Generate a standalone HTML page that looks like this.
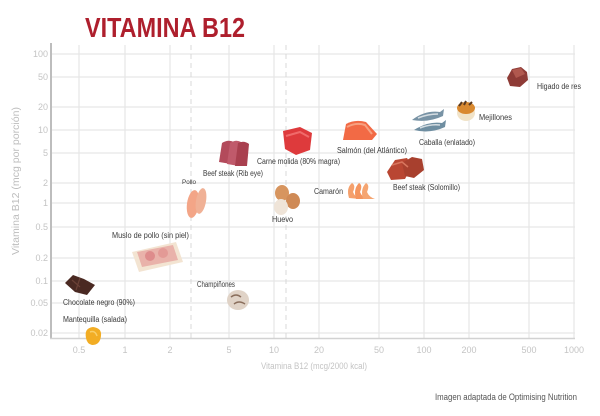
<!DOCTYPE html>
<html><head><meta charset="utf-8"><style>
html,body{margin:0;padding:0;background:#fff;}
svg{display:block;}
text{font-family:"Liberation Sans",sans-serif;}
</style></head><body>
<svg width="600" height="416" viewBox="0 0 600 416" xmlns="http://www.w3.org/2000/svg">
<rect width="600" height="416" fill="#fff"/>
<!-- title -->
<text x="85" y="37" font-size="28" font-weight="bold" fill="#ae1f2d" textLength="160" lengthAdjust="spacingAndGlyphs">VITAMINA B12</text>
<!-- grid -->
<g stroke="#e6e6e6" stroke-width="1.2">
<line x1="79" y1="45" x2="79" y2="338"/>
<line x1="125" y1="45" x2="125" y2="338"/>
<line x1="170" y1="45" x2="170" y2="338"/>
<line x1="229" y1="45" x2="229" y2="338"/>
<line x1="274" y1="45" x2="274" y2="338"/>
<line x1="319" y1="45" x2="319" y2="338"/>
<line x1="379" y1="45" x2="379" y2="338"/>
<line x1="424" y1="45" x2="424" y2="338"/>
<line x1="469" y1="45" x2="469" y2="338"/>
<line x1="529" y1="45" x2="529" y2="338"/>
<line x1="574" y1="45" x2="574" y2="338"/>
<line x1="51" y1="54" x2="575" y2="54"/>
<line x1="51" y1="77" x2="575" y2="77"/>
<line x1="51" y1="107" x2="575" y2="107"/>
<line x1="51" y1="130" x2="575" y2="130"/>
<line x1="51" y1="153" x2="575" y2="153"/>
<line x1="51" y1="183" x2="575" y2="183"/>
<line x1="51" y1="203" x2="575" y2="203"/>
<line x1="51" y1="227" x2="575" y2="227"/>
<line x1="51" y1="258" x2="575" y2="258"/>
<line x1="51" y1="281" x2="575" y2="281"/>
<line x1="51" y1="303" x2="575" y2="303"/>
<line x1="51" y1="333" x2="575" y2="333"/>
</g>
<g stroke="#d8d8d8" stroke-width="1" stroke-dasharray="5,4">
<line x1="191" y1="45" x2="191" y2="338"/>
<line x1="286" y1="45" x2="286" y2="338"/>
</g>
<line x1="51" y1="43" x2="51" y2="339" stroke="#bdbdbd" stroke-width="2"/>
<line x1="50" y1="338.5" x2="575" y2="338.5" stroke="#d2d2d2" stroke-width="1.5"/>
<!-- y tick labels -->
<g font-size="9" fill="#c4c4c4" text-anchor="end">
<text x="48" y="57">100</text>
<text x="48" y="80">50</text>
<text x="48" y="110">20</text>
<text x="48" y="133">10</text>
<text x="48" y="156">5</text>
<text x="48" y="186">2</text>
<text x="48" y="206">1</text>
<text x="48" y="230">0.5</text>
<text x="48" y="261">0.2</text>
<text x="48" y="284">0.1</text>
<text x="48" y="306">0.05</text>
<text x="48" y="336">0.02</text>
</g>
<g font-size="9" fill="#c4c4c4" text-anchor="middle">
<text x="79" y="353">0.5</text>
<text x="125" y="353">1</text>
<text x="170" y="353">2</text>
<text x="229" y="353">5</text>
<text x="274" y="353">10</text>
<text x="319" y="353">20</text>
<text x="379" y="353">50</text>
<text x="424" y="353">100</text>
<text x="469" y="353">200</text>
<text x="529" y="353">500</text>
<text x="574" y="353">1000</text>
</g>
<text x="261" y="369" font-size="9" fill="#c4c4c4" textLength="106" lengthAdjust="spacingAndGlyphs">Vitamina B12 (mcg/2000 kcal)</text>
<text transform="translate(19,255) rotate(-90)" font-size="10" fill="#bdbdbd" textLength="148" lengthAdjust="spacingAndGlyphs">Vitamina B12 (mcg por porción)</text>
<text x="435" y="400" font-size="9" fill="#555" textLength="142" lengthAdjust="spacingAndGlyphs">Imagen adaptada de Optimising Nutrition</text>

<!-- food icons -->
<!-- Higado -->
<polygon points="507,78 512,69 521,67 527,72 528,80 520,87 510,86" fill="#8e3b36"/>
<polygon points="512,70 521,68 525,74 516,78" fill="#b0584e"/>
<!-- Mejillones -->
<ellipse cx="466" cy="113" rx="9" ry="8" fill="#f1e3c8"/>
<ellipse cx="466" cy="108" rx="9" ry="6" fill="#d98930"/>
<path d="M459,106 L462,102 M464,105 L466,101 M469,105 L472,102" stroke="#5a3a22" stroke-width="2"/>
<!-- Caballa -->
<path d="M412,120 Q425,110 440,112 L444,109 L443,116 Q428,123 412,120 Z" fill="#7893a5"/>
<path d="M414,130 Q428,121 442,123 L446,120 L445,127 Q430,134 414,130 Z" fill="#6f8ea1"/>
<path d="M418,118 Q428,114 438,114" stroke="#d5dde2" stroke-width="1.5" fill="none"/>
<path d="M420,128 Q430,124 440,125" stroke="#d5dde2" stroke-width="1.5" fill="none"/>
<!-- Salmon -->
<path d="M343,140 L346,124 Q355,119 366,122 L377,134 L372,140 Z" fill="#f26a45"/>
<path d="M347,127 Q356,122 365,125 L372,134" stroke="#f7a080" stroke-width="2" fill="none"/>
<!-- Carne molida -->
<path d="M283,131 L300,127 L312,133 L310,150 L296,155 L285,149 Z" fill="#de3a3c"/>
<path d="M286,136 L300,132 L309,137" stroke="#f06a6a" stroke-width="2" fill="none"/>
<!-- Beef rib eye -->
<path d="M219,162 L222,143 Q228,139 234,142 L231,164 Z" fill="#b34a5b"/>
<path d="M227,164 L230,143 Q236,139 241,142 L239,166 Z" fill="#c05a6b"/>
<path d="M235,166 L238,143 Q244,140 249,144 L247,166 Z" fill="#a9404f"/>
<!-- Beef solomillo -->
<path d="M387,172 L395,160 L407,158 L412,166 L405,179 L391,180 Z" fill="#b94632"/>
<path d="M402,163 L412,157 L422,159 L424,170 L414,178 L405,176 Z" fill="#a8402e"/>
<path d="M392,165 L402,162 L408,167" stroke="#d8755d" stroke-width="1.5" fill="none"/>
<!-- Camaron -->
<path d="M349,198 Q346,188 352,183 Q356,185 353,192 Q355,197 360,199 Z" fill="#f5a06c"/>
<path d="M356,199 Q353,189 359,183 Q363,185 360,192 Q362,197 367,199 Z" fill="#f4955f"/>
<path d="M363,199 Q360,189 366,183 Q370,185 367,192 Q369,197 375,199 Z" fill="#f5a571"/>
<!-- Pollo -->
<ellipse cx="193" cy="204" rx="6" ry="14" fill="#f3a587" transform="rotate(8 193 204)"/>
<ellipse cx="201" cy="201" rx="5" ry="13" fill="#f0b196" transform="rotate(10 201 201)"/>
<!-- Huevo -->
<ellipse cx="282" cy="193" rx="7" ry="8" fill="#d7955f"/>
<ellipse cx="293" cy="201" rx="7" ry="8" fill="#cf8a56"/>
<ellipse cx="281" cy="207" rx="7" ry="8" fill="#efe4d8"/>
<!-- Muslo -->
<polygon points="132,252 176,242 183,262 139,272" fill="#f3e4d2"/>
<polygon points="137,252 173,245 178,260 142,267" fill="#e9b2aa"/>
<circle cx="150" cy="256" r="5" fill="#de8c8c"/>
<circle cx="163" cy="253" r="5" fill="#e39a96"/>
<!-- Chocolate -->
<polygon points="65,283 73,275 84,279 95,285 87,295 75,292" fill="#4a2922"/>
<path d="M72,280 L80,287 M80,278 L76,290" stroke="#6a4036" stroke-width="1.2"/>
<!-- Mantequilla -->
<path d="M86,338 Q84,328 93,327 Q102,328 101,336 Q100,345 92,345 Q87,344 86,338 Z" fill="#f2ad24"/>
<path d="M90,332 Q95,330 97,336" stroke="#f8cf6a" stroke-width="1.5" fill="none"/>
<!-- Champinones -->
<ellipse cx="238" cy="300" rx="11" ry="10" fill="#e0d3c7"/>
<path d="M231,297 Q236,293 241,297 M234,304 Q239,300 245,304" stroke="#8a6e5c" stroke-width="1.5" fill="none"/>

<!-- labels -->
<g font-size="8" fill="#3a3a3a">
<text x="537" y="89" textLength="44" lengthAdjust="spacingAndGlyphs">Higado de res</text>
<text x="479" y="120" textLength="33" lengthAdjust="spacingAndGlyphs">Mejillones</text>
<text x="419" y="145" textLength="56" lengthAdjust="spacingAndGlyphs">Caballa (enlatado)</text>
<text x="337" y="153" textLength="70" lengthAdjust="spacingAndGlyphs">Salmón (del Atlántico)</text>
<text x="257" y="164" textLength="83" lengthAdjust="spacingAndGlyphs">Carne molida (80% magra)</text>
<text x="203" y="176" textLength="60" lengthAdjust="spacingAndGlyphs">Beef steak (Rib eye)</text>
<text x="393" y="190" textLength="67" lengthAdjust="spacingAndGlyphs">Beef steak (Solomillo)</text>
<text x="314" y="194" textLength="29" lengthAdjust="spacingAndGlyphs">Camarón</text>
<text x="182" y="184" font-size="6" textLength="14" lengthAdjust="spacingAndGlyphs">Pollo</text>
<text x="272" y="222" textLength="21" lengthAdjust="spacingAndGlyphs">Huevo</text>
<text x="112" y="238" textLength="77" lengthAdjust="spacingAndGlyphs">Muslo de pollo (sin piel)</text>
<text x="197" y="287" textLength="38" lengthAdjust="spacingAndGlyphs">Champiñones</text>
<text x="63" y="305" textLength="72" lengthAdjust="spacingAndGlyphs">Chocolate negro (90%)</text>
<text x="63" y="322" textLength="64" lengthAdjust="spacingAndGlyphs">Mantequilla (salada)</text>
</g>
</svg>
</body></html>
